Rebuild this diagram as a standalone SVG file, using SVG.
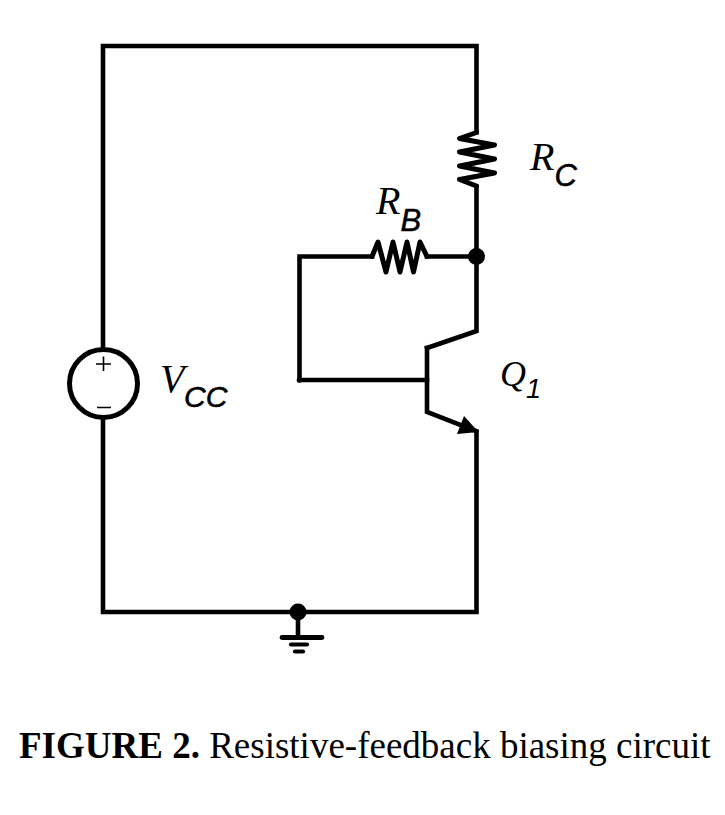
<svg xmlns="http://www.w3.org/2000/svg" width="725" height="815" viewBox="0 0 725 815">
<style>
.w{fill:none;stroke:#000;stroke-width:4.6;stroke-linejoin:miter;stroke-linecap:square}
.z{fill:none;stroke:#000;stroke-width:5;stroke-linejoin:round;stroke-linecap:round}
.s{font-family:"Liberation Serif",serif;font-style:italic;font-size:40px;fill:#000}
.a{font-family:"Liberation Sans",sans-serif;font-style:italic;font-size:31px;fill:#000;stroke:#000;stroke-width:.5}
.c{font-family:"Liberation Serif",serif;font-size:37px;fill:#000}
</style>
<rect width="725" height="815" fill="#fff"/>
<g id="connectors">
<path class="w" d="M103 348V46H476.500V132"/>
<path class="w" d="M103 418V612H476.500V432"/>
<path class="w" d="M476.500 187V331L427 348"/>
<path class="w" d="M372 256.500H299.500V380H427"/>
<path class="w" d="M427 256.500H476"/>
<path class="w" d="M298 612V636"/>
</g>
<g id="RC"><path class="z" d="M476.500 132.500L459.500 138.500L494.500 145L459.500 152L494.500 159L459.500 166L494.500 173L459.500 179.500L476.500 186"/>
<text class="s" x="530" y="170">R</text><text class="a" x="554.500" y="186">C</text></g>
<g id="RB"><path class="z" d="M372 256.500L378 242L386 272L393 242L400 272L407 242L413.500 272L420 242L427 256.500"/>
<text class="s" x="376" y="214">R</text><text class="a" x="400.500" y="231">B</text></g>
<g id="junction"><circle cx="476.500" cy="256.500" r="8.500"/></g>
<g id="Q1">
<path class="w" d="M427 348V412L476 431"/>
<path d="M478.500 432L464 416L457 434Z"/>
<circle cx="299.500" cy="380" r="2.800"/>
<text class="s" x="500" y="386" style="font-size:36px">Q</text><text class="a" x="526" y="398" style="font-size:27px;stroke-width:0">1</text>
</g>
<g id="VCC">
<circle cx="103.500" cy="383.500" r="34" fill="#fff" stroke="#000" stroke-width="5"/>
<path d="M96 364H111M103.500 356.500V371M97 407.500H111" stroke="#000" stroke-width="1.600" fill="none"/>
<text class="s" x="160" y="392">V</text><text class="a" x="184" y="407" style="font-size:30px">CC</text>
</g>
<g id="ground">
<circle cx="298" cy="612" r="8.500"/>
<path d="M282 637.500H322" stroke="#000" stroke-width="4.800" stroke-linecap="round"/>
<path d="M291 644.500H307" stroke="#000" stroke-width="4.200" stroke-linecap="round"/>
<path d="M295 651.500H303" stroke="#000" stroke-width="4.200" stroke-linecap="round"/>
</g>
<text class="c" x="19" y="758"><tspan font-weight="bold">FIGURE 2.</tspan> Resistive-feedback biasing circuit</text>
</svg>
